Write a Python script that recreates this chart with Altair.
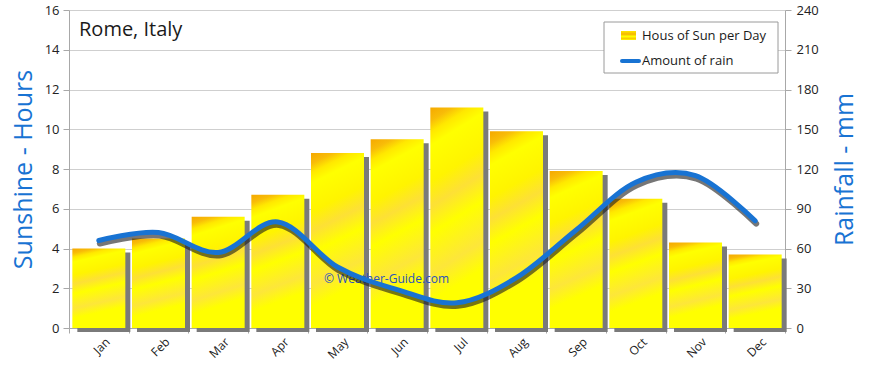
import altair as alt
import pandas as pd

# ---- data ----
months = ["Jan", "Feb", "Mar", "Apr", "May", "Jun", "Jul", "Aug", "Sep", "Oct", "Nov", "Dec"]
sun_hours = [4.0, 4.5, 5.6, 6.7, 8.8, 9.5, 11.1, 9.9, 7.9, 6.5, 4.3, 3.7]
rain_mm = [66, 72, 57, 80, 46, 29, 19, 38, 74, 110, 115, 81]
sun_ticks = [0, 2, 4, 6, 8, 10, 12, 14, 16]
rain_ticks = [0, 30, 60, 90, 120, 150, 180, 210, 240]

df = pd.DataFrame({"month": months, "sun": sun_hours, "rain": rain_mm})
one = pd.DataFrame({"k": [0]})

FONT = "Open Sans"
BLUE = "#1873d3"
GRAY = "#a8a8a8"

x_enc = alt.X(
    "month:N", sort=months,
    scale=alt.Scale(paddingInner=0, paddingOuter=0),
    axis=alt.Axis(title=None, labelAngle=-45, tickBand="extent", tickSize=5,
                  labelFontSize=12, labelPadding=3, labelOffset=5, grid=False,
                  domainColor=GRAY, tickColor=GRAY, labelColor="#222"),
)

left_axis = alt.Axis(title="Sunshine - Hours", values=sun_ticks, grid=True, gridColor="#cfcfcf",
                     tickSize=6, labelPadding=4, labelFontSize=13, titleFontSize=25,
                     titleColor=BLUE, titleFontWeight="normal", titlePadding=8,
                     domainColor=GRAY, tickColor=GRAY, labelColor="#222")
right_axis = alt.Axis(title="Rainfall - mm", orient="right", values=rain_ticks, grid=False,
                      tickSize=6, labelPadding=5, labelFontSize=13, titleFontSize=25,
                      titleColor=BLUE, titleFontWeight="normal", titlePadding=14,
                      titleAngle=270, titleBaseline="top",
                      domainColor=GRAY, tickColor=GRAY, labelColor="#222")

sun_scale = alt.Scale(domain=[0, 16], nice=False)
rain_scale = alt.Scale(domain=[0, 240], nice=False)

bar_fill = alt.Gradient(
    gradient="linear", x1=0, y1=0, x2=0.15, y2=1,
    stops=[
        alt.GradientStop(color="#f5a800", offset=0),
        alt.GradientStop(color="#f8bc08", offset=0.06),
        alt.GradientStop(color="#ffe800", offset=0.11),
        alt.GradientStop(color="#ffff00", offset=0.17),
        alt.GradientStop(color="#fff400", offset=0.33),
        alt.GradientStop(color="#fde036", offset=0.44),
        alt.GradientStop(color="#ffff00", offset=0.56),
        alt.GradientStop(color="#fde63a", offset=0.74),
        alt.GradientStop(color="#ffff00", offset=0.86),
        alt.GradientStop(color="#ffff00", offset=1),
    ],
)

bar_shadow = alt.Chart(df).mark_bar(width=53, xOffset=5, yOffset=4, y2Offset=0, fill="#7a7a7a").encode(
    x=x_enc, y=alt.Y("sun:Q", scale=sun_scale, axis=left_axis))
bars = alt.Chart(df).mark_bar(width=53, fill=bar_fill).encode(
    x=x_enc, y=alt.Y("sun:Q", scale=sun_scale, axis=left_axis))
left = alt.layer(bar_shadow, bars)

watermark = alt.Chart(one).mark_text(
    text="©  Weather-Guide.com", align="left", baseline="middle", fontSize=12,
    font=FONT, color="#2a52be").encode(x=alt.value(255), y=alt.value(269))

line_shadow = alt.Chart(df).mark_line(
    interpolate="cardinal", strokeWidth=6, color="#1a1a1a", opacity=0.6,
    yOffset=3, xOffset=1, strokeCap="round").encode(
    x=x_enc, y=alt.Y("rain:Q", scale=rain_scale, axis=right_axis))
line = alt.Chart(df).mark_line(
    interpolate="cardinal", strokeWidth=5, color=BLUE, strokeCap="round").encode(
    x=x_enc, y=alt.Y("rain:Q", scale=rain_scale, axis=right_axis))
right = alt.layer(line_shadow, line)

title_txt = alt.Chart(one).mark_text(
    text="Rome, Italy", align="left", baseline="middle", fontSize=20,
    font=FONT, color="#1a1a1a").encode(x=alt.value(10), y=alt.value(20))

legend_box = alt.Chart(one).mark_rect(fill="white", stroke="#9a9a9a", strokeWidth=1).encode(
    x=alt.value(535), x2=alt.value(709), y=alt.value(12), y2=alt.value(63))
swatch_fill = alt.Gradient(
    gradient="linear", x1=0, y1=0, x2=0, y2=1,
    stops=[
        alt.GradientStop(color="#ffe800", offset=0),
        alt.GradientStop(color="#f5b400", offset=0.35),
        alt.GradientStop(color="#ffff00", offset=0.6),
        alt.GradientStop(color="#f8c800", offset=0.85),
        alt.GradientStop(color="#ffff00", offset=1),
    ],
)
legend_sw1 = alt.Chart(one).mark_rect(fill=swatch_fill).encode(
    x=alt.value(552), x2=alt.value(567), y=alt.value(21), y2=alt.value(30))
legend_sw2 = alt.Chart(one).mark_rule(color=BLUE, strokeWidth=4, strokeCap="round").encode(
    x=alt.value(553), x2=alt.value(570), y=alt.value(51))
legend_t1 = alt.Chart(one).mark_text(
    text="Hous of Sun per Day", align="left", baseline="middle", fontSize=13,
    font=FONT, color="#1a1a1a").encode(x=alt.value(573), y=alt.value(26))
legend_t2 = alt.Chart(one).mark_text(
    text="Amount of rain", align="left", baseline="middle", fontSize=13,
    font=FONT, color="#1a1a1a").encode(x=alt.value(573), y=alt.value(51))

chart = alt.layer(
    left, watermark, right, title_txt, legend_box, legend_sw1, legend_sw2, legend_t1, legend_t2
).resolve_scale(y="independent").properties(
    width=716, height=318,
    autosize=alt.AutoSizeParams(type="none"),
    padding={"left": 69, "top": 10, "right": 85, "bottom": 40},
    background="white",
).configure_view(stroke=None).configure_axis(
    labelFont=FONT, titleFont=FONT
)

chart.save("out.html", embed_options={"renderer": "svg", "actions": False})
